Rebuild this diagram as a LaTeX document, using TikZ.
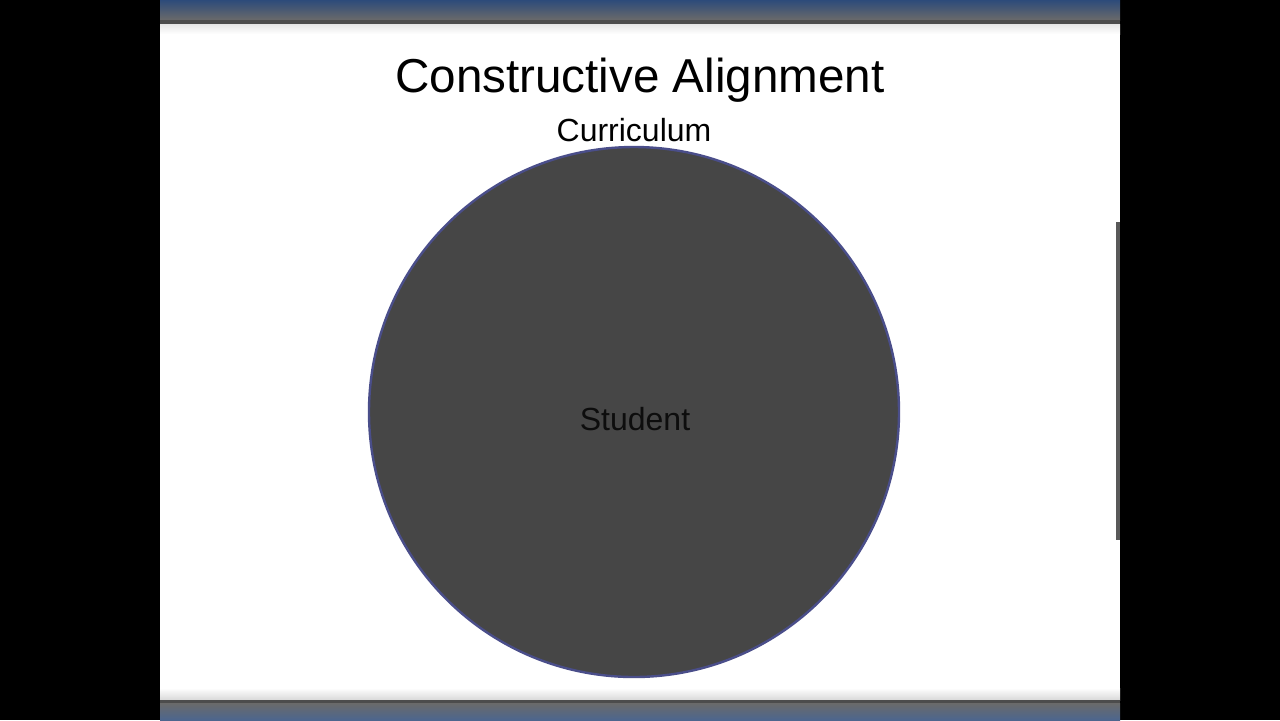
\documentclass[tikz,border=0pt]{standalone}
\usepackage{fontspec}
\setmainfont{Liberation Sans}
\usepackage{tikz}

\definecolor{barblue}{HTML}{2D4B7A}
\definecolor{bargrey}{HTML}{6A6A6A}
\definecolor{discgrey}{HTML}{464646}
\definecolor{discrim}{HTML}{4A4E8A}

\begin{document}
\begin{tikzpicture}[x=0.5pt,y=-0.5pt,
	disc/.style={circle,draw=discrim,line width=1.2pt,fill=discgrey,inner sep=0pt,minimum size=265pt},
	titletext/.style={anchor=base,font=\fontsize{23.8}{28}\selectfont,text=black,inner sep=0pt},
	lbltext/.style={anchor=base,font=\fontsize{16}{19}\selectfont,inner sep=0pt}]

% slide and frame
\fill[black] (0,0) rectangle (1280,720);
\fill[white] (160,0) rectangle (1120,720);
\shade[top color=barblue,bottom color=bargrey] (160,0) rectangle (1120,20);
\fill[black!70] (160,20) rectangle (1120,24);
\shade[top color=black!10,bottom color=white] (160,24) rectangle (1120,34);
\shade[top color=white,bottom color=black!15] (160,688) rectangle (1120,700);
\fill[black!70] (160,700) rectangle (1120,703);
\shade[top color=bargrey,bottom color=barblue!85] (160,703) rectangle (1120,720);
\fill[black!65] (1116,222) rectangle (1120,540);

\node[titletext] (title) at (640,92) {Constructive Alignment};
\node[lbltext,text=black] (curriculum) at (634,141) {Curriculum};
\node[disc] (curric) at (634,412) {};
\node[lbltext,text=black!95] (student) at (635,430) {Student};

\end{tikzpicture}
\end{document}
